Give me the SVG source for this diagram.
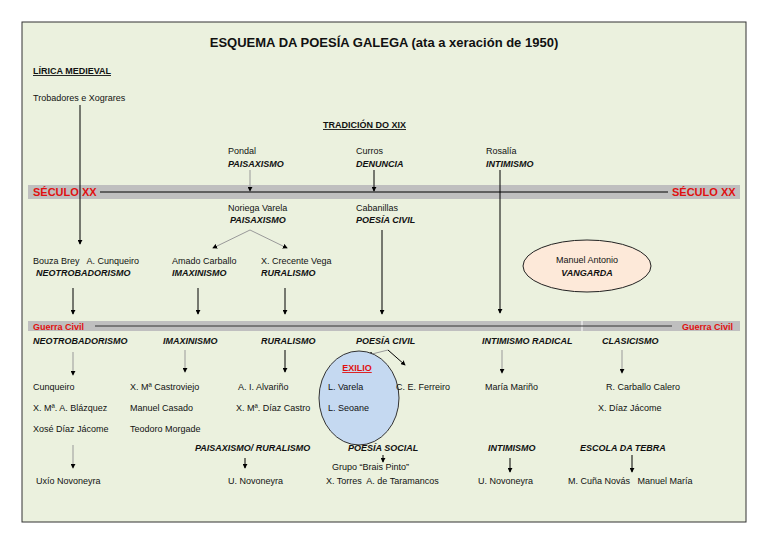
<svg xmlns="http://www.w3.org/2000/svg" width="768" height="543" viewBox="0 0 768 543">
<style>
text{font-family:"Liberation Sans",Arial,sans-serif;font-size:9px;fill:#111;white-space:pre}
.b{font-weight:bold}
.bi{font-weight:bold;font-style:italic}
.u{text-decoration:underline}
.r{fill:#e01010;font-weight:bold}
.m{text-anchor:middle}
.a{stroke:#000;stroke-width:1;fill:none;marker-end:url(#ah)}
.g{stroke:#999;stroke-width:1;fill:none;marker-end:url(#ah)}
</style>
<defs><marker id="ah" viewBox="0 0 6 6" refX="5" refY="3" markerWidth="5" markerHeight="5" orient="auto"><path d="M0,0L6,3L0,6z" fill="#000"/></marker></defs>
<rect x="0" y="0" width="768" height="543" fill="#fff"/>
<rect x="22" y="22" width="724" height="500" fill="#ebf1de" stroke="#333"/>
<g id="bands">
<rect x="28" y="185" width="712" height="14" fill="#bfbfbf"/>
<line x1="100" y1="192" x2="668" y2="192" stroke="#000"/>
<rect x="28" y="321" width="712" height="10" fill="#bfbfbf"/>
<line x1="582" y1="321" x2="582" y2="331" stroke="#fff"/>
<line x1="95" y1="326" x2="672" y2="326" stroke="#333"/>
<text x="33" y="196" class="r" style="font-size:11px">SÉCULO XX</text>
<text x="672" y="196" class="r" style="font-size:11px">SÉCULO XX</text>
<text x="33" y="330" class="r" style="font-size:9px">Guerra Civil</text>
<text x="682" y="330" class="r" style="font-size:9px">Guerra Civil</text>
</g>
<g id="connectors">
<path class="a" d="M80,105V244"/>
<path class="g" d="M250,170V191"/>
<path class="a" d="M374,170V191"/>
<path class="a" d="M500,170V313"/>
<path class="g" d="M250,230L213,248"/>
<path class="g" d="M250,230L287,248"/>
<path class="a" d="M382,230V314"/>
<path class="a" d="M73,288V314"/>
<path class="a" d="M198,288V314"/>
<path class="a" d="M285,288V314"/>
<path class="g" d="M73,352V375"/>
<path class="g" d="M185,350V372"/>
<path class="a" d="M285,350V372"/>
<path class="g" d="M388,350L368,355"/>
<path class="a" d="M388,350L405,365"/>
<path class="g" d="M502,350V373"/>
<path class="g" d="M622,350V373"/>
<path class="g" d="M73,445V468"/>
<path class="a" d="M245,458V468"/>
<path class="a" d="M383,455V462"/>
<path class="a" d="M510,458V472"/>
<path class="a" d="M632,455V472"/>
</g>
<g id="title"><text x="384" y="47" class="b m" style="font-size:13px">ESQUEMA DA POESÍA GALEGA (ata a xeración de 1950)</text></g>
<g id="medieval"><text x="33" y="74" class="b u">LÍRICA MEDIEVAL</text><text x="33" y="101">Trobadores e Xograres</text></g>
<g id="xix"><text x="323" y="128" class="b u">TRADICIÓN DO XIX</text></g>
<g id="pondal"><text x="228" y="154">Pondal</text><text x="228" y="167" class="bi">PAISAXISMO</text></g>
<g id="curros"><text x="356" y="154">Curros</text><text x="356" y="167" class="bi">DENUNCIA</text></g>
<g id="rosalia"><text x="486" y="154">Rosalía</text><text x="486" y="167" class="bi">INTIMISMO</text></g>
<g id="noriega"><text x="228" y="211">Noriega Varela</text><text x="230" y="223" class="bi">PAISAXISMO</text></g>
<g id="cabanillas"><text x="356" y="211">Cabanillas</text><text x="356" y="223" class="bi">POESÍA CIVIL</text></g>
<g id="neotrob1"><text x="33" y="264">Bouza Brey   A. Cunqueiro</text><text x="36" y="276" class="bi">NEOTROBADORISMO</text></g>
<g id="amado"><text x="172" y="264">Amado Carballo</text><text x="172" y="276" class="bi">IMAXINISMO</text></g>
<g id="crecente"><text x="261" y="264">X. Crecente Vega</text><text x="261" y="276" class="bi">RURALISMO</text></g>
<g id="manuelantonio"><ellipse cx="587" cy="266" rx="64" ry="26" fill="#fde9d9" stroke="#222"/><text x="587" y="263" class="m">Manuel Antonio</text><text x="587" y="276" class="bi m">VANGARDA</text></g>
<g id="row2">
<text x="33" y="344" class="bi">NEOTROBADORISMO</text>
<text x="163" y="344" class="bi">IMAXINISMO</text>
<text x="261" y="344" class="bi">RURALISMO</text>
<text x="356" y="344" class="bi">POESÍA CIVIL</text>
<text x="482" y="344" class="bi">INTIMISMO RADICAL</text>
<text x="602" y="344" class="bi">CLASICISMO</text>
</g>
<g id="exilio"><ellipse cx="359" cy="398" rx="40" ry="47" fill="#c5d9f1" stroke="#333"/><text x="357" y="371" class="r u m">EXILIO</text><text x="328" y="390">L. Varela</text><text x="328" y="411">L. Seoane</text></g>
<g id="names">
<text x="33" y="390">Cunqueiro</text><text x="130" y="390">X. Mª Castroviejo</text><text x="238" y="390">A. I. Alvariño</text><text x="396" y="390">C. E. Ferreiro</text><text x="485" y="390">María Mariño</text><text x="606" y="390">R. Carballo Calero</text>
<text x="33" y="411">X. Mª. A. Blázquez</text><text x="130" y="411">Manuel Casado</text><text x="236" y="411">X. Mª. Díaz Castro</text><text x="598" y="411">X. Díaz Jácome</text>
<text x="33" y="432">Xosé Díaz Jácome</text><text x="130" y="432">Teodoro Morgade</text>
<text x="195" y="451" class="bi">PAISAXISMO/ RURALISMO</text><text x="348" y="451" class="bi">POESÍA SOCIAL</text><text x="488" y="451" class="bi">INTIMISMO</text><text x="580" y="451" class="bi">ESCOLA DA TEBRA</text>
<text x="332" y="470">Grupo “Brais Pinto”</text>
<text x="36" y="484">Uxío Novoneyra</text><text x="228" y="484">U. Novoneyra</text><text x="326" y="484">X. Torres  A. de Taramancos</text><text x="478" y="484">U. Novoneyra</text><text x="568" y="484">M. Cuña Novás   Manuel María</text>
</g>
</svg>
